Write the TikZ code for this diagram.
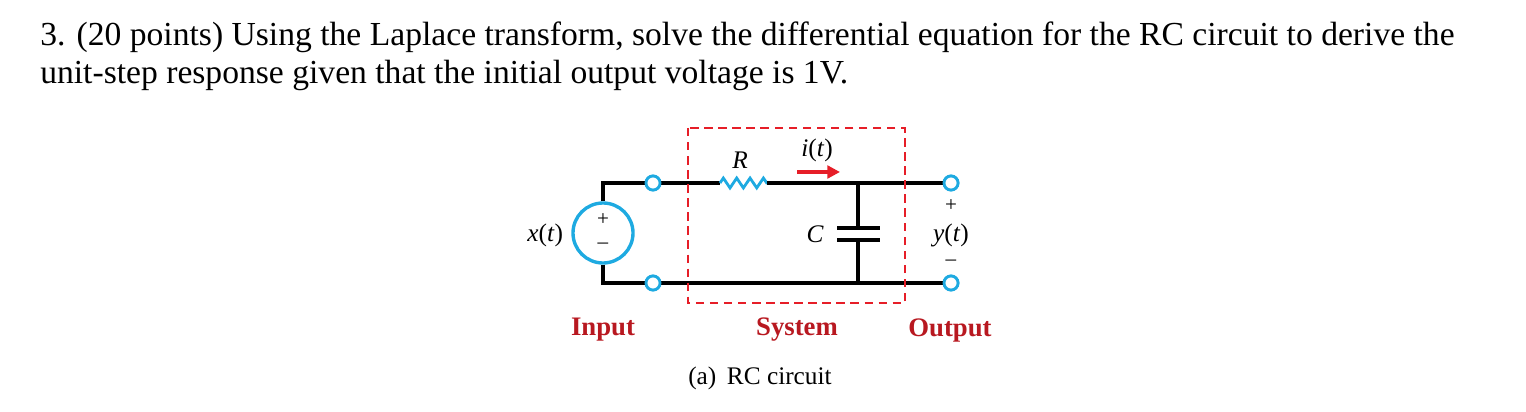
\documentclass[tikz,border=0pt]{standalone}
\usepackage{fontspec}
\setmainfont{Liberation Serif}
\usetikzlibrary{decorations.pathmorphing,arrows.meta}
\definecolor{srcblue}{RGB}{30,170,225}
\definecolor{boxred}{RGB}{230,30,40}
\begin{document}
\begin{tikzpicture}
[x=0.025cm, y=-0.025cm,
wire/.style={line width=2.2pt, black},
term/.style={circle, draw=srcblue, fill=white, line width=2pt, inner sep=0pt, minimum size=10pt},
lab/.style={font=\fontsize{18}{20}\selectfont},
sign/.style={font=\fontsize{15}{16}\selectfont, inner sep=0pt},
bold lab/.style={font=\fontsize{19}{20}\selectfont\bfseries, text=boxred!80!black},
txt/.style={font=\fontsize{23.9}{26}\selectfont, anchor=base west, inner sep=0pt}
]
\useasboundingbox (0,0) rectangle (1526,412);
% heading
\node[txt] (q1) at (40,46) {3. (20 points) Using the Laplace transform, solve the differential equation for the RC circuit to derive the};
\node[txt] (q2) at (40,84) {unit-step response given that the initial output voltage is 1V.};
% corners and terminals
\coordinate (tl) at (603,183);
\coordinate (bl) at (603,283);
\node[circle, draw=srcblue, line width=2.4pt, minimum size=1.5cm, inner sep=0pt] (src) at (603,233) {};
\node[sign] (sp) at (603,220) {+};
\node[sign] (sm) at (603,246) {--};
\node[term] (inT) at (653,183) {};
\node[term] (inB) at (653,283) {};
\coordinate (rA) at (720,183);
\coordinate (rB) at (767,183);
\coordinate (cT) at (858,183);
\coordinate (cB) at (858,283);
\coordinate (pT) at (858,228);
\coordinate (pB) at (858,240);
\node[term] (outT) at (951,183) {};
\node[term] (outB) at (951,283) {};
% wires
\draw[wire] (src.north) -- (tl) -- (inT);
\draw[wire] (src.south) -- (bl) -- (inB);
\draw[wire] (inT) -- (rA);
\draw[srcblue, line width=2pt, decorate, decoration={zigzag, segment length=9.5pt, amplitude=3.5pt}] (rA) -- (rB);
\draw[wire] (rB) -- (cT) -- (outT);
\draw[wire] (inB) -- (cB) -- (outB);
\draw[wire] (cT) -- (pT);
\draw[wire] (cB) -- (pB);
\draw[wire] (837,228) -- (880,228);
\draw[wire] (837,240) -- (880,240);
\node[term] at (653,183) {};
\node[term] at (653,283) {};
\node[term] at (951,183) {};
\node[term] at (951,283) {};
% system box
\draw[boxred, line width=2pt, dash pattern=on 6pt off 4pt] (688,128) rectangle (905,303);
% labels
\node[lab] (lR) at (740,160) {\itshape R};
\node[lab] (li) at (817,150) {\itshape i\/\upshape(\itshape t\/\upshape)};
\coordinate (aS) at (797,172);
\coordinate (aE) at (840,172);
\draw[boxred, line width=3pt, -{Triangle[length=9pt,width=9pt]}] (aS) -- (aE);
\node[lab] (lC) at (815,234) {\itshape C};
\node[lab, anchor=east] (lx) at (568,235) {\itshape x\/\upshape(\itshape t\/\upshape)};
\node[sign] (lp) at (951,206) {+};
\node[lab, inner sep=0pt] (ly) at (951,235) {\itshape y\/\upshape(\itshape t\/\upshape)};
\node[sign] (lm) at (951,263) {--};
\node[bold lab] (lin) at (603,330) {Input};
\node[bold lab] (lsys) at (797,330) {System};
\node[bold lab] (lout) at (950,330) {Output};
\node[lab] (cap) at (760,378) {(a)\, RC circuit};
\end{tikzpicture}
\end{document}
